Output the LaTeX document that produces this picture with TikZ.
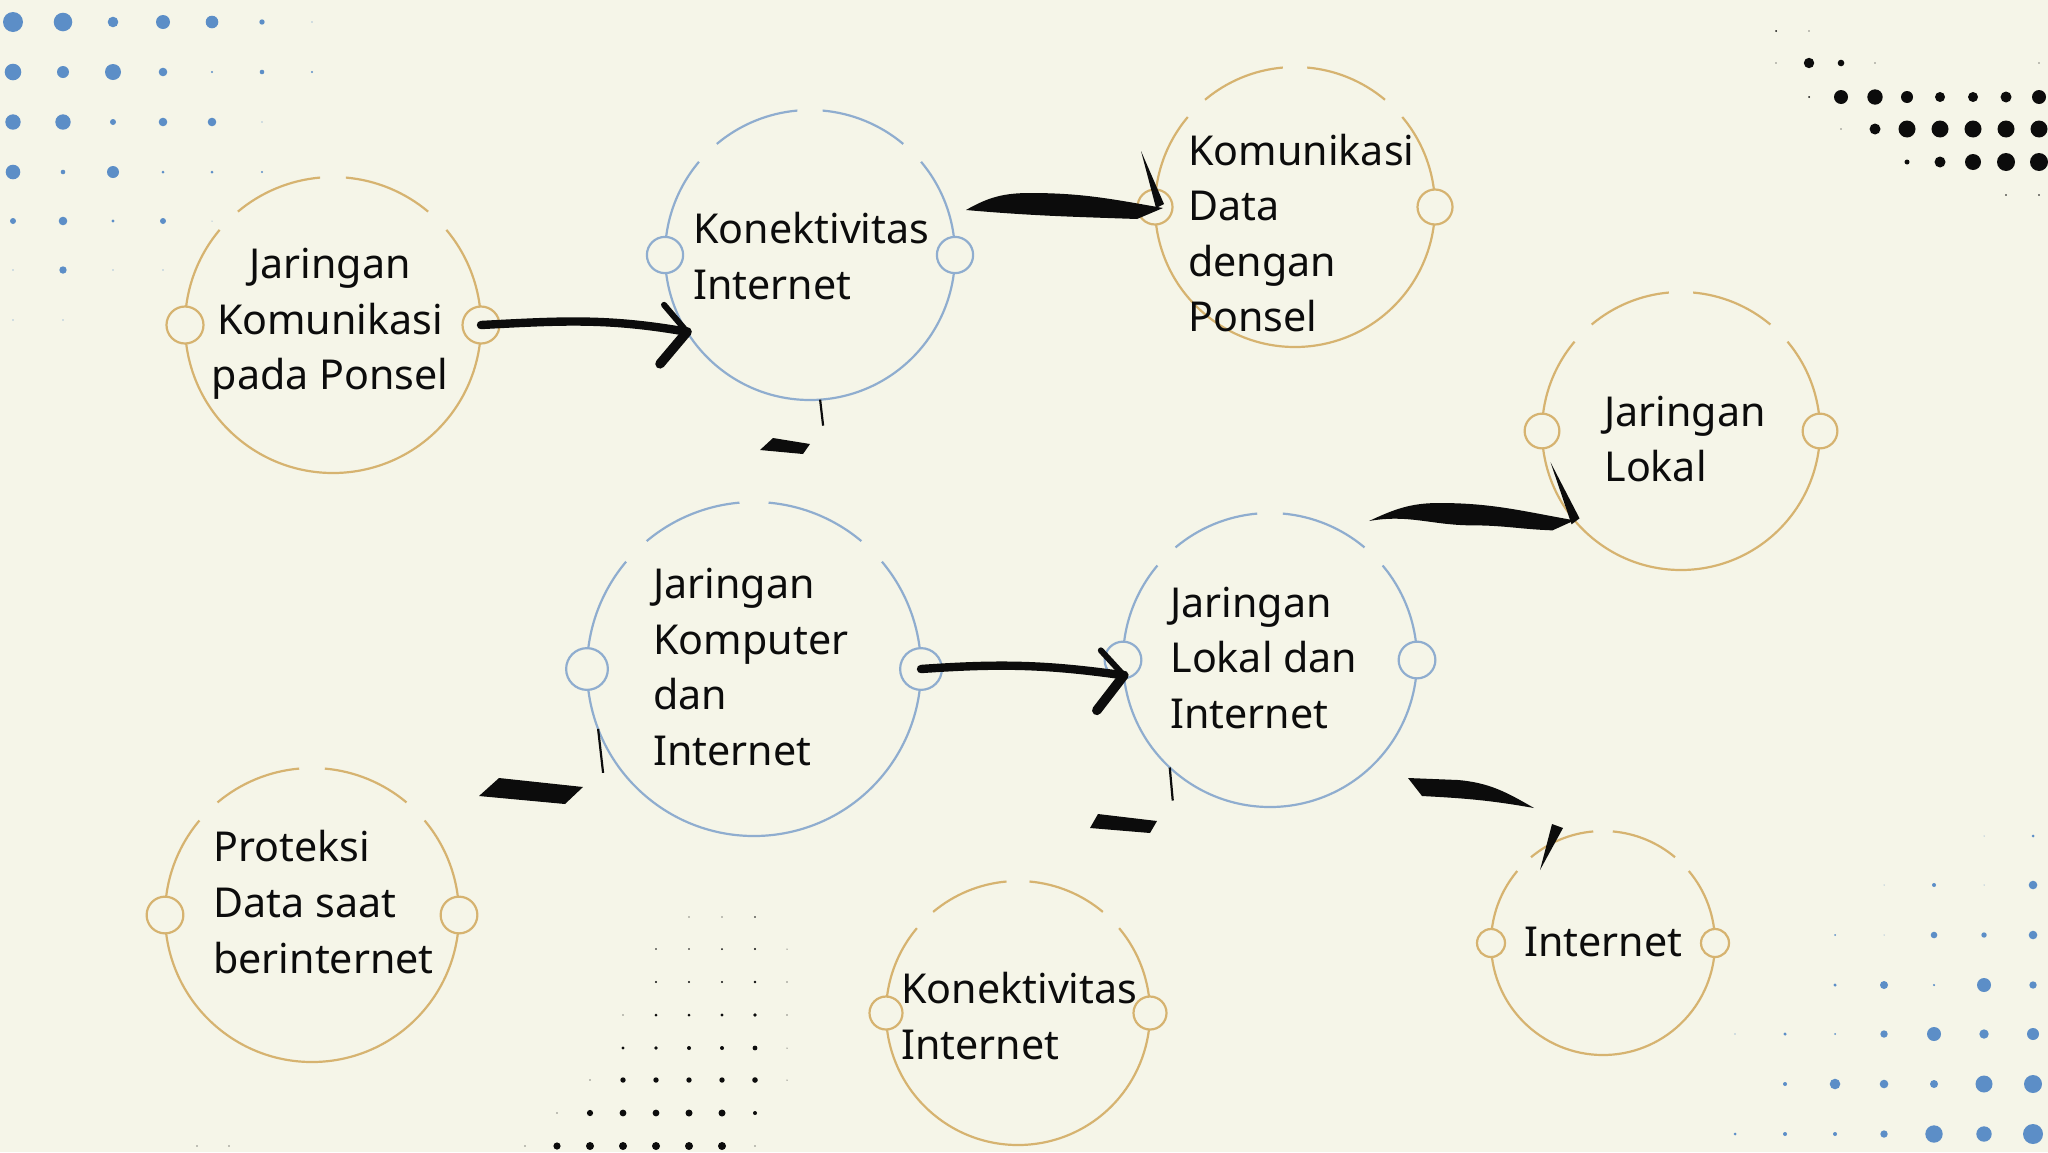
\documentclass[tikz,border=0pt]{standalone}
\usepackage{fontspec}
\setmainfont{Noto Sans}
\usepackage{tikz}
\usetikzlibrary{calc}
\definecolor{paper}{RGB}{245,245,232}
\definecolor{gold}{RGB}{214,179,112}
\definecolor{sky}{RGB}{143,173,207}
\definecolor{dotblue}{RGB}{92,142,199}
\definecolor{ink}{RGB}{12,12,12}

\begin{document}
\begin{tikzpicture}[x=0.5pt,y=0.5pt,
    hub/.style={circle,inner sep=0pt,outer sep=0pt},
    rim/.style={line width=1.1pt},
    port/.style={circle,inner sep=0pt,outer sep=0pt,fill=paper,line width=1.1pt},
    lbl/.style={font=\fontsize{20.6}{27.8}\selectfont,align=left,inner sep=0pt,anchor=west,text=ink},
    brush/.style={draw=ink,line width=4.2pt,line cap=round,line join=round},
    hair/.style={draw=ink,line width=1.1pt}]
  \useasboundingbox (0,0) rectangle (2048,-1152);
  \fill[paper] (0,0) rectangle (2048,-1152);

  % dot fields
  \foreach \x/\y/\r in {13/22/10,63/22/9.3,113/22/5.3,163/22/7,212/22/6.3,262/22/2.7,312/22/0.7,
      13/72/8.3,63/72/6,113/72/8,163/72/4.3,212/72/1.2,262/72/2.3,312/72/1.2,
      13/122/7.7,63/122/7.7,113/122/3,163/122/4.3,212/122/4.3,262/122/0.7,
      13/172/7.3,63/172/2.3,113/172/6,163/172/1.5,212/172/1.5,262/172/1.2,
      13/221/3,63/221/4.3,113/221/1.7,163/221/3,212/221/0.5,
      13/270/0.7,63/270/3.7,113/270/0.6,163/270/0.7,13/320/0.6,63/320/0.7}
    \fill[dotblue] (\x,-\y) circle[radius=\r];
  \foreach \x/\y/\r in {1984/836/0.5,2033/836/1.5,
      1884/885/0.5,1934/885/2,1984/885/0.5,2033/885/4.3,
      1835/935/1,1884/935/0.5,1934/935/3.3,1984/935/2.7,2033/935/4.3,
      1835/985/1.7,1884/985/4,1934/985/1.2,1984/985/7,2033/985/3.7,
      1735/1034/0.6,1785/1034/1.7,1835/1034/1,1884/1034/3.7,1934/1034/7,1984/1034/4.7,2033/1034/6,
      1785/1084/2,1835/1084/5.3,1884/1084/4.3,1934/1084/4,1984/1084/8.5,2033/1084/9,
      1735/1134/1.5,1785/1134/2,1835/1134/2,1884/1134/3.7,1934/1134/8.7,1984/1134/7.7,2033/1134/10}
    \fill[dotblue] (\x,-\y) circle[radius=\r];
  \foreach \x/\y/\r in {1776/31/1,1809/31/0.7,
      1776/63/0.6,1809/63/5.2,1841/63/3.3,1875/63/0.6,2039/63/0.6,
      1809/97/1,1841/97/7,1875/97/7.7,1907/97/6,1940/97/5,1973/97/5,2006/97/5.5,2039/97/7,
      1841/129/0.7,1875/129/5.5,1907/129/8.5,1940/129/8.5,1973/129/8.5,2006/129/8.5,2039/129/8.5,
      1907/162/2.5,1940/162/5.5,1973/162/8,2006/162/9,2039/162/9,
      2006/195/0.8,2039/195/0.8}
    \fill[ink] (\x,-\y) circle[radius=\r];
  \foreach \x/\y/\r in {689/917/0.7,722/917/0.7,755/917/0.8,
      656/949/0.8,689/949/0.9,722/949/1,755/949/1.1,787/949/0.5,
      656/982/1.1,689/982/1.2,722/982/1.2,755/982/1.3,787/982/0.6,
      623/1015/0.6,656/1015/1.5,689/1015/1.5,722/1015/1.6,755/1015/1.8,787/1015/0.7,
      623/1048/1.6,656/1048/1.9,689/1048/2,722/1048/2,755/1048/2.4,787/1048/0.5,
      590/1080/0.6,623/1080/2.7,656/1080/2.7,689/1080/2.7,722/1080/2.7,755/1080/2.8,787/1080/0.5,
      557/1113/0.6,590/1113/3.1,623/1113/3.4,656/1113/3.4,689/1113/3.5,722/1113/3.5,755/1113/2,
      525/1146/0.6,557/1146/3.6,590/1146/4,623/1146/4,656/1146/4,689/1146/4,722/1146/4,755/1146/0.7,
      197/1146/0.6,229/1146/0.6}
    \fill[ink] (\x,-\y) circle[radius=\r];

  % bubbles
  \foreach \nm/\cx/\cy/\rr/\col in {jkp/333/-325/148/gold,kia/810/-255/145/sky,kdp/1295/-207/140/gold,
      jl/1681/-431/139/gold,jkdi/754/-669/167/sky,jldi/1270/-660/147/sky,
      pdsb/312/-915/147/gold,kib/1018/-1013/132/gold,inet/1603/-943/112/gold}{
    \node[hub,minimum size=\rr pt] (\nm) at (\cx,\cy) {};
    \draw[rim,draw=\col] (\nm.0) arc[start angle=0,end angle=40,radius=\rr]
      (\nm.50) arc[start angle=50,end angle=85,radius=\rr]
      (\nm.95) arc[start angle=95,end angle=130,radius=\rr]
      (\nm.140) arc[start angle=140,end angle=360,radius=\rr];
    \node[port,draw=\col,minimum size=0.125*\rr pt] (\nm-w) at (\nm.180) {};
    \node[port,draw=\col,minimum size=0.125*\rr pt] (\nm-e) at (\nm.0) {};
  }

  % labels
  \node[lbl,anchor=center,align=center] (jkp-t) at (330,-324) {Jaringan\\Komunikasi\\pada Ponsel};
  \node[lbl] (kia-t) at (693,-256) {Konektivitas\\Internet};
  \node[lbl] (kdp-t) at (1188,-233) {Komunikasi\\Data\\dengan\\Ponsel};
  \node[lbl] (jl-t) at (1604,-439) {Jaringan\\Lokal};
  \node[lbl] (jkdi-t) at (653,-667) {Jaringan\\Komputer\\dan\\Internet};
  \node[lbl] (jldi-t) at (1170,-658) {Jaringan\\Lokal dan\\Internet};
  \node[lbl] (pdsb-t) at (213,-902) {Proteksi\\Data saat\\berinternet};
  \node[lbl] (kib-t) at (901,-1016) {Konektivitas\\Internet};
  \node[lbl] (inet-t) at (1524,-942) {Internet};

  % brush links
  \draw[brush] (jkp-e.center) to[out=3,in=170] (kia.212);
  \draw[brush,line width=3pt] ($(kia.212)+(-23,27)$) -- (kia.212);
  \draw[brush,line width=4.8pt] (kia.212) -- ++(-27,-32);

  \coordinate (kia-q) at (966,-210);
  \fill[ink] (kia-q) to[out=30,in=180] ++(64,17) to[out=0,in=170] ($(kdp-w)+(8,-1)$)
    -- ($(kdp-w)+(-18,-12)$) to[out=178,in=-5] (kia-q);
  \fill[ink] ($(kdp-w)+(-14,56)$) -- ($(kdp-w)+(9,3)$) -- ($(kdp-w)+(1,-1)$) -- cycle;

  \draw[hair] (kia.-86) -- ++(3,-26);
  \coordinate (kia-s) at (773,-438);
  \fill[ink] (kia-s) -- ++(37,-6) -- ++(-7,-10) -- ++(-43,4) -- cycle;

  \draw[brush] (jkdi-e.center) to[out=4,in=172] (jldi.186);
  \draw[brush,line width=3pt] ($(jldi.186)+(-23,25)$) -- (jldi.186);
  \draw[brush,line width=4.8pt] (jldi.186) -- ++(-27,-35);

  \draw[hair] (jkdi.201) -- ++(5,-44);
  \coordinate (jkdi-s) at (499,-778);
  \fill[ink] (jkdi-s) -- ++(84,-9) -- ++(-18,-17) -- ++(-86,8) -- cycle;

  \draw[hair] (jldi.227) -- ++(3,-33);
  \coordinate (jldi-s) at (1098,-814);
  \fill[ink] (jldi-s) -- ++(59,-7) -- ++(-7,-12) -- ++(-60,5) -- cycle;

  \coordinate (jldi-q) at (1369,-521);
  \fill[ink] (jldi-q) to[out=25,in=180] ++(70,18) to[out=0,in=170] (jl.220)
    -- ++(-22,-10) to[out=178,in=0] ++(-80,5) to[out=180,in=10] (jldi-q);
  \fill[ink] ($(jl.220)+(-24,58)$) -- ($(jl.220)+(5,2)$) -- ($(jl.220)+(-3,-4)$) -- cycle;

  \coordinate (jldi-r) at (1408,-778);
  \coordinate (inet-q) at (1534,-808);
  \fill[ink] (jldi-r) -- ++(50,-2) to[out=-5,in=150] (inet-q) to[out=170,in=-3] ($(jldi-r)+(14,-18)$) -- cycle;
  \coordinate (inet-p) at (1552,-824);
  \fill[ink] (inet-p) -- ++(11,-4) -- ++(-23,-42) -- cycle;
\end{tikzpicture}
\end{document}
